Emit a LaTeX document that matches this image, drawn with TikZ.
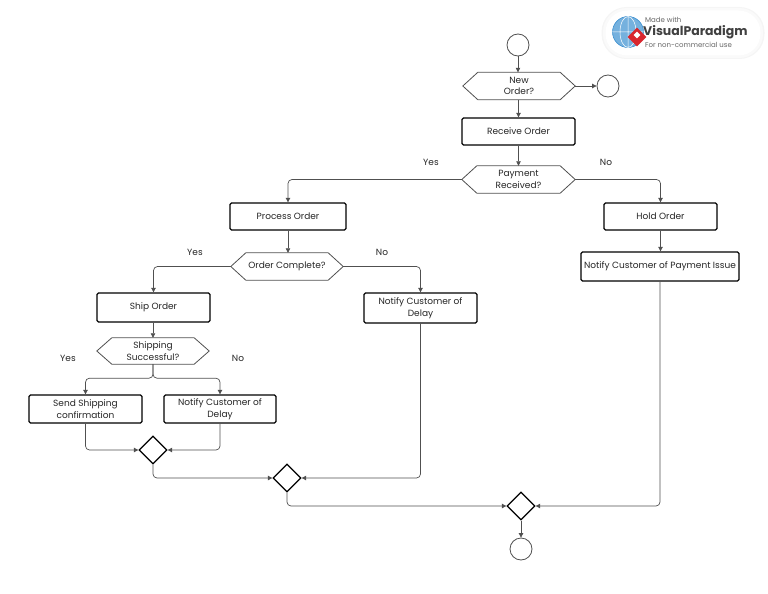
\documentclass[tikz,border=0pt]{standalone}
\usepackage{fontspec}
\setmainfont{Poppins}
\usetikzlibrary{arrows.meta,shapes.geometric}
\definecolor{linegray}{HTML}{505050}
\definecolor{vpblue}{HTML}{3A8FD0}
\definecolor{vpred}{HTML}{D8262E}
\tikzset{
  flow/.style={draw=linegray,line width=0.7pt,rounded corners=4pt,-{Triangle[length=4.5pt,width=4.5pt]}},
  actbox/.style={draw=black,line width=1.3pt,rounded corners=1.5pt,fill=white,inner sep=1pt,align=center,font=\fontsize{9}{11.5}\selectfont,text=black!85},
  hexnode/.style={inner sep=1pt,align=center,font=\fontsize{9}{11.5}\selectfont,text=black!85},
  endpt/.style={circle,draw=linegray,line width=0.8pt,minimum size=22pt,inner sep=0pt,fill=white},
  merge/.style={diamond,draw=black,line width=1.3pt,minimum size=28pt,inner sep=0pt,fill=white},
  lbl/.style={font=\fontsize{9}{11.5}\selectfont,text=black!85}
}
\newcommand{\hexdraw}[1]{%
  \draw[linegray,line width=0.8pt] (#1.west) -- ([xshift=15pt]#1.north west) -- ([xshift=-15pt]#1.north east) -- (#1.east) -- ([xshift=-15pt]#1.south east) -- ([xshift=15pt]#1.south west) -- cycle;}
\begin{document}
\begin{tikzpicture}[x=1pt,y=-1pt]
\useasboundingbox (0,0) rectangle (768,594);
% watermark badge
\node[fill=black!4,rounded corners=25pt,minimum width=163pt,minimum height=52pt] (badgeshadow) at (683,33) {};
\node[fill=black!2,rounded corners=24pt,minimum width=160pt,minimum height=50pt] (badgeglow) at (683,33) {};
\node[fill=white,rounded corners=22pt,minimum width=155pt,minimum height=45pt] (badge) at (683,33) {};
\node[circle,fill=vpblue!70,draw=vpblue,line width=0.6pt,minimum size=31pt,inner sep=0pt] (globe) at (628,32) {};
\draw[white,line width=0.5pt] (globe.north) -- (globe.south) (globe.west) -- (globe.east)
  (globe.center) ellipse (8pt and 15.5pt);
\node[diamond,fill=vpred,minimum size=19pt,inner sep=0pt] (logo) at (637,37) {};
\node[diamond,fill=white,minimum size=7pt,inner sep=0pt] (logoin) at (637,35) {};
\node[anchor=west,inner sep=0pt,font=\fontsize{7}{8}\selectfont,text=black!60] (made) at (645,20) {Made with};
\node[anchor=west,inner sep=0pt,font=\fontsize{12.5}{14}\bfseries\selectfont,text=black!75] (vp) at (643,32) {VisualParadigm};
\node[anchor=west,inner sep=0pt,font=\fontsize{7}{8}\selectfont,text=black!60] (ncu) at (645,45) {For non-commercial use};
% nodes
\node[endpt] (start) at (518,45) {};
\node[hexnode,minimum width=112pt,minimum height=27pt] (newq) at (519,86) {New\\Order?};
\hexdraw{newq}
\node[endpt] (endR) at (608,86) {};
\node[actbox,minimum width=113pt,minimum height=27pt] (recv) at (518.5,131.5) {Receive Order};
\node[hexnode,minimum width=113pt,minimum height=27pt] (pay) at (518.5,179.5) {Payment\\Received?};
\hexdraw{pay}
\node[actbox,minimum width=116pt,minimum height=27pt] (proc) at (288,216.5) {Process Order};
\node[actbox,minimum width=113pt,minimum height=27pt] (hold) at (660.5,216.5) {Hold Order};
\node[hexnode,minimum width=112pt,minimum height=27pt] (oc) at (287,266.5) {Order Complete?};
\hexdraw{oc}
\node[actbox,minimum width=158pt,minimum height=29pt] (npi) at (660,266.5) {Notify Customer of Payment Issue};
\node[actbox,minimum width=113pt,minimum height=29pt] (ship) at (153.5,307.5) {Ship Order};
\node[actbox,minimum width=113pt,minimum height=30pt] (ncd) at (420.5,308) {Notify Customer of\\Delay};
\node[hexnode,minimum width=112pt,minimum height=26pt] (ss) at (153,351) {Shipping\\Successful?};
\hexdraw{ss}
\node[actbox,minimum width=113pt,minimum height=28pt] (ssc) at (85.5,409) {Send Shipping\\confirmation};
\node[actbox,minimum width=112pt,minimum height=28pt] (ncd2) at (220,409) {Notify Customer of\\Delay};
\node[merge] (d1) at (153,450) {};
\node[merge] (d2) at (287,478) {};
\node[merge] (d3) at (521,506) {};
\node[endpt] (endB) at (521,549) {};
% labels
\node[lbl] (ly1) at (431,162) {Yes};
\node[lbl] (ln1) at (606,162) {No};
\node[lbl] (ly2) at (195,252) {Yes};
\node[lbl] (ln2) at (382,252) {No};
\node[lbl] (ly3) at (68,358) {Yes};
\node[lbl] (ln3) at (238,358) {No};
% connectors
\draw[flow] (start) -- (newq.north -| start);
\draw[flow] (newq.east) -- (endR.west);
\draw[flow] (newq.south -| recv) -- (recv.north);
\draw[flow] (recv.south) -- (pay.north);
\draw[flow] (pay.west) -| (proc.north);
\draw[flow] (pay.east) -| (hold.north);
\draw[flow] (proc.south) -- (oc.north -| proc);
\draw[flow] (oc.west) -| (ship.north);
\draw[flow] (oc.east) -| (ncd.north);
\draw[flow] (hold.south) -- (npi.north -| hold);
\draw[flow] (ship.south -| ss) -- (ss.north);
\coordinate (split) at ([yshift=-14pt]ss.south);
\draw[flow] (ss.south) -- (split) -| (ssc.north);
\draw[flow] (ss.south) -- (split) -| (ncd2.north);
\draw[flow] (ssc.south) |- (d1.west);
\draw[flow] (ncd2.south) |- (d1.east);
\draw[flow] (d1.south) |- (d2.west);
\draw[flow] (ncd.south) |- (d2.east);
\draw[flow] (d2.south) |- (d3.west);
\draw[flow] (npi.south) |- (d3.east);
\draw[flow] (d3.south) -- (endB.north);
\end{tikzpicture}
\end{document}
